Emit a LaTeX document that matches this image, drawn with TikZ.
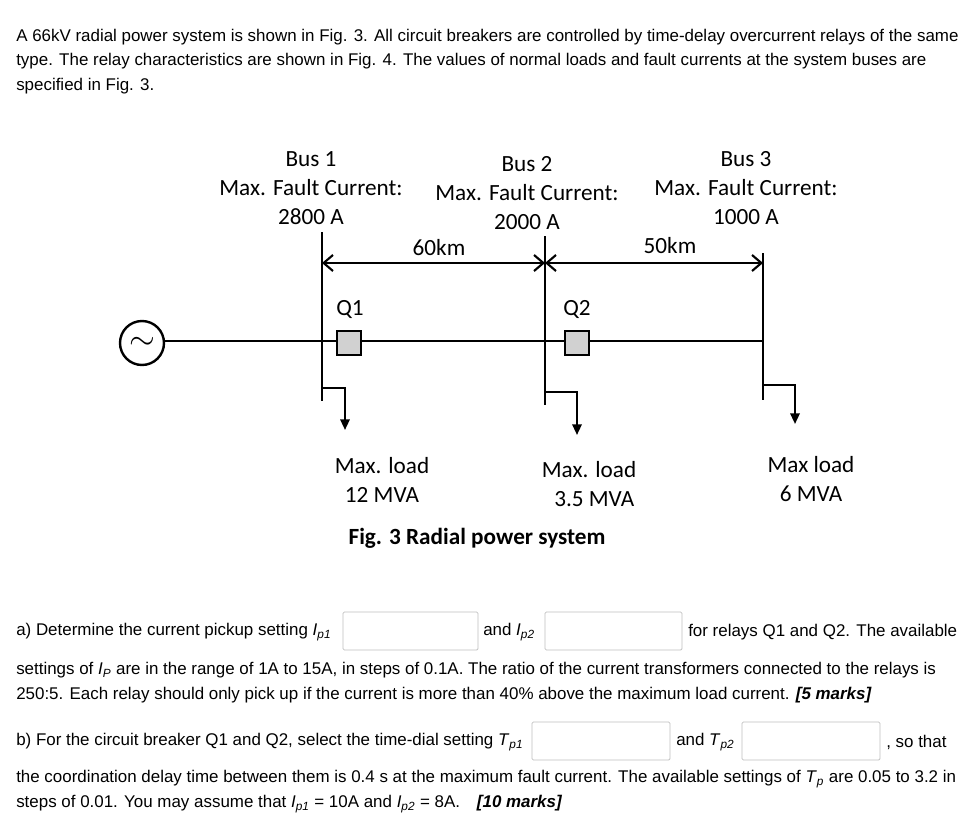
\documentclass[tikz,border=0pt]{standalone}
\usepackage{fontspec}
\setmainfont{Liberation Sans}
\newfontfamily\calib{Carlito}
\usetikzlibrary{calc,arrows.meta}
\newcommand{\Isub}[2]{\textit{#1}\textsubscript{\textit{#2}}}

\begin{document}
\begin{tikzpicture}[x=0.75pt,y=-0.75pt,
  para/.style={anchor=west,inner sep=0pt,font=\fontsize{12.7}{15}\selectfont},
  lbl/.style={inner sep=0pt,font=\calib\fontsize{17.4}{20}\selectfont},
  wire/.style={line width=1.9pt},
  dim/.style={line width=1.6pt,{Straight Barb[length=7pt,width=12pt,line width=1.6pt]}-{Straight Barb[length=7pt,width=12pt,line width=1.6pt]}},
  load/.style={line width=1.6pt,-{Triangle[length=8pt,width=7pt]}},
  answer/.style={draw=black!25,rounded corners=1pt,line width=0.6pt}]
\useasboundingbox (0,0) rectangle (980,831);

% question text
\node[para] (t1) at (16,37) {A 66kV radial power system is shown in Fig. 3.  All circuit breakers are controlled by time-delay overcurrent relays of the same};
\node[para] (t2) at (16,61) {type. The relay characteristics are shown in Fig. 4. The values of normal loads and fault currents at the system buses are};
\node[para] (t3) at (16,86) {specified in Fig. 3.};

% buses
\coordinate (bus1top) at (322,232); \coordinate (bus1bot) at (322,401);
\coordinate (bus2top) at (545,236); \coordinate (bus2bot) at (545,405);
\coordinate (bus3top) at (763,253); \coordinate (bus3bot) at (763,400);
\draw[wire] (bus1top) -- (bus1bot);
\draw[wire] (bus2top) -- (bus2bot);
\draw[wire] (bus3top) -- (bus3bot);

% generator and line
\node[draw,circle,line width=1.8pt,minimum size=33pt,inner sep=0pt,font=\fontsize{28}{28}\selectfont] (gen) at (142,343) {$\sim$};
\coordinate (lineend) at (763,341);
\draw[wire] (gen.east |- lineend) -- (lineend);

% breakers
\node[draw,fill=black!18,line width=1.8pt,minimum width=18pt,minimum height=18pt,inner sep=0pt] (q1box) at (349,343) {};
\node[draw,fill=black!18,line width=1.8pt,minimum width=18pt,minimum height=18pt,inner sep=0pt] (q2box) at (577,343) {};
\node[lbl] (q1) at (350,310) {Q1};
\node[lbl] (q2) at (577,310) {Q2};

% distances
\coordinate (d1) at (322,263); \coordinate (d2) at (545,263); \coordinate (d3) at (763,263);
\draw[dim] (d1) -- (d2);
\draw[dim] (d2) -- (d3);
\node[lbl] (km60) at (439,248) {60km};
\node[lbl] (km50) at (670,246) {50km};

% loads
\draw[load] (322,388) -- (345,388) -- (345,430);
\draw[load] (545,392) -- (577,392) -- (577,435);
\draw[load] (763,385) -- (795,385) -- (795,424);

% bus labels
\node[lbl,align=center] (b1) at (311,188) {Bus 1\\[2pt]Max. Fault Current:\\[2pt]2800 A};
\node[lbl,align=center] (b2) at (527,193) {Bus 2\\[2pt]Max. Fault Current:\\[2pt]2000 A};
\node[lbl,align=center] (b3) at (746,188) {Bus 3\\[2pt]Max. Fault Current:\\[2pt]1000 A};
\node[lbl,align=center] (l1) at (382,480) {Max. load\\[2pt]12 MVA};
\node[lbl,align=center] (l2) at (589,484) {Max. load\\[2pt]\ \ 3.5 MVA};
\node[lbl,align=center] (l3) at (811,479) {Max load\\[2pt]6 MVA};
\node[lbl,font=\calib\bfseries\fontsize{17.4}{20}\selectfont] (cap) at (477,538) {Fig. 3 Radial power system};

% part a
\draw[answer] (343,612) rectangle (478,650);
\draw[answer] (545,612) rectangle (682,650);
\node[para] (a1) at (16,632) {a) Determine the current pickup setting \Isub{I}{p1}};
\node[para] (a2) at (483,632) {and \Isub{I}{p2}};
\node[para] (a3) at (688,632) {for relays Q1 and Q2. The available};
\node[para] (a4) at (16,670) {settings of \Isub{I}{P} are in the range of 1A to 15A, in steps of 0.1A. The ratio of the current transformers connected to the relays is};
\node[para] (a5) at (16,695) {250:5. Each relay should only pick up if the current is more than 40\% above the maximum load current. \textbf{\textit{[5 marks]}}};

% part b
\draw[answer] (532,722) rectangle (670,760);
\draw[answer] (742,722) rectangle (880,760);
\node[para] (b1t) at (16,742) {b) For the circuit breaker Q1 and Q2, select the time-dial setting \Isub{T}{p1}};
\node[para] (b2t) at (676,742) {and \Isub{T}{p2}};
\node[para] (b3t) at (886,742) {, so that};
\node[para] (b4t) at (16,779) {the coordination delay time between them is 0.4 s at the maximum fault current. The available settings of \Isub{T}{p} are 0.05 to 3.2 in};
\node[para] (b5t) at (16,804) {steps of 0.01. You may assume that \Isub{I}{p1} = 10A and \Isub{I}{p2} = 8A.\quad \textbf{\textit{[10 marks]}}};
\end{tikzpicture}
\end{document}
